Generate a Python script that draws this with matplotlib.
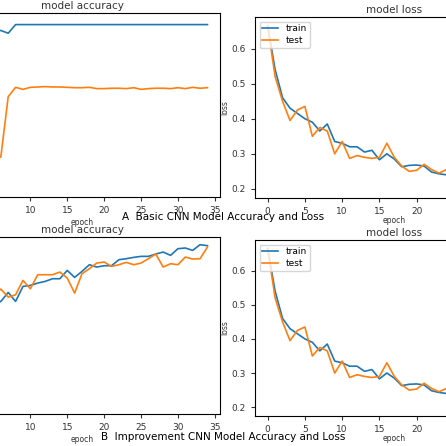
import matplotlib
matplotlib.use("Agg")
import matplotlib.pyplot as plt

epochs = list(range(35))
a_train = [0.86,0.88,0.89,0.90,0.90,0.905,0.905,0.89,0.937,0.937,0.937,0.937,0.937,0.937,0.937,0.937,0.937,0.937,0.937,0.937,0.937,0.937,0.937,0.937,0.937,0.937,0.937,0.937,0.937,0.937,0.937,0.937,0.937,0.937,0.937]
a_test = [0.10,0.12,0.13,0.15,0.17,0.20,0.218,0.545,0.596,0.585,0.596,0.598,0.600,0.598,0.598,0.596,0.594,0.594,0.596,0.589,0.589,0.591,0.591,0.589,0.594,0.585,0.589,0.591,0.591,0.589,0.594,0.589,0.596,0.591,0.594]
b_train_px = [300,290,275,265,250,245,235,208,235,190,187,180,175,167,167,142,163,145,125,132,128,128,110,107,103,100,100,93,87,97,77,75,82,65,68]
b_test_px = [290,280,260,250,230,215,198,222,215,172,197,155,155,155,147,165,210,152,137,120,117,130,125,118,125,120,107,93,132,122,125,102,108,107,72]
b_train = [(572 - v) / 530 for v in b_train_px]
b_test = [(572 - v) / 530 for v in b_test_px]
l_train = [0.665,0.54,0.46,0.43,0.415,0.40,0.39,0.365,0.385,0.335,0.33,0.32,0.32,0.305,0.31,0.283,0.30,0.285,0.263,0.267,0.268,0.265,0.248,0.243,0.24,0.238,0.235,0.232,0.23,0.228,0.225,0.223,0.22,0.218,0.215]
l_test = [0.665,0.52,0.45,0.395,0.425,0.435,0.35,0.375,0.365,0.30,0.335,0.287,0.295,0.29,0.287,0.29,0.33,0.29,0.265,0.25,0.253,0.27,0.255,0.245,0.255,0.25,0.255,0.25,0.26,0.252,0.255,0.25,0.26,0.255,0.258]

W = H = 446
fig = plt.figure(figsize=(4.46, 4.46), dpi=100)
fs = 6.5

def ax_px(l, t, r, b):
    return fig.add_axes([l / W, 1 - b / H, (r - l) / W, (b - t) / H])

def style(ax, title):
    ax.set_title(title, fontsize=7.5, pad=3, color="#333333")
    ax.tick_params(labelsize=fs, length=3, colors="#333333")
    ax.set_xlim(-1.7, 35.7)
    ax.set_xticks([0, 5, 10, 15, 20, 25, 30, 35])
    ax.set_xlabel("epoch", fontsize=5.5, labelpad=2, color="#333333")

ax1 = ax_px(-56, 13, 220, 197)
ax1.plot(epochs, a_train, color="#1f77b4", lw=1.2)
ax1.plot(epochs, a_test, color="#ff7f0e", lw=1.2)
ax1.set_ylim(0, 1)
style(ax1, "model accuracy")

ax3 = ax_px(-56, 237, 220, 414)
ax3.plot(epochs, b_train, color="#1f77b4", lw=1.2)
ax3.plot(epochs, b_test, color="#ff7f0e", lw=1.2)
ax3.set_ylim(0, 1)
style(ax3, "model accuracy")

for (t, b) in [(17, 198), (240, 416)]:
    ax = ax_px(255, t, 255 + 37.4 * 7.45, b)
    ax.plot(epochs, l_train, color="#1f77b4", lw=1.2, label="train")
    ax.plot(epochs, l_test, color="#ff7f0e", lw=1.2, label="test")
    ax.set_ylim(0.174, 0.69)
    ax.set_yticks([0.2, 0.3, 0.4, 0.5, 0.6])
    style(ax, "model loss")
    ax.set_ylabel("loss", fontsize=5.5, labelpad=2, color="#333333")
    ax.legend(loc="upper left", fontsize=6.5, handlelength=1.8, borderpad=0.3, labelspacing=0.3)
    ax.xaxis.set_label_coords(0.5, -0.1)

fig.text(0.5, 1 - 217 / H, "A  Basic CNN Model Accuracy and Loss", ha="center", va="center", fontsize=7.5)
fig.text(0.5, 1 - 437 / H, "B  Improvement CNN Model Accuracy and Loss", ha="center", va="center", fontsize=7.5)

fig.savefig("out.png", dpi=100)
